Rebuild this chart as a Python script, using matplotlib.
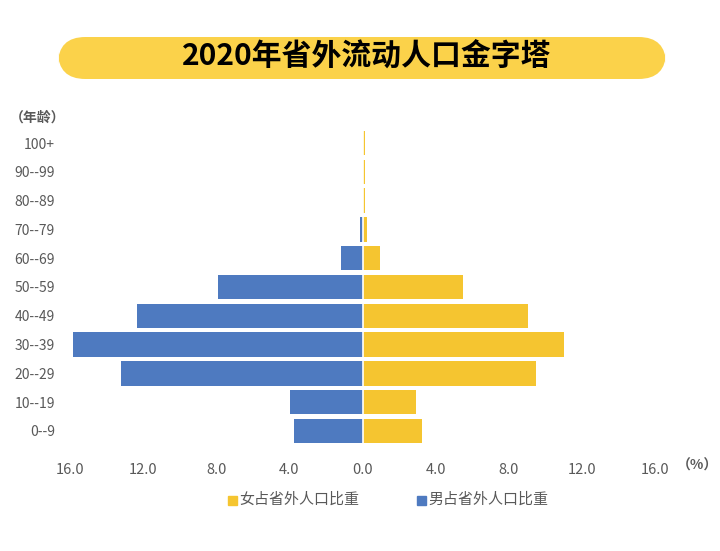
import matplotlib

matplotlib.use("Agg")

import matplotlib.pyplot as plt
import numpy as np
from matplotlib.patches import FancyBboxPatch

plt.rcParams["font.family"] = ["Noto Sans CJK SC", "DejaVu Sans"]

# age groups, bottom to top
ages = ["0--9", "10--19", "20--29", "30--39", "40--49", "50--59",
        "60--69", "70--79", "80--89", "90--99", "100+"]
male = [3.75, 3.95, 13.2, 15.8, 12.3, 7.9, 1.2, 0.15, 0.0, 0.0, 0.0]
female = [3.25, 2.92, 9.48, 11.0, 9.04, 5.49, 0.96, 0.25, 0.12, 0.12, 0.12]
xticks = [-16, -12, -8, -4, 0, 4, 8, 12, 16]

BLUE = "#4E7AC0"
YELLOW = "#F5C530"
PILL = "#FBD24A"
GRAY = "#595959"

W, H = 720, 551
fig = plt.figure(figsize=(W / 100, H / 100), dpi=100)

# title pill
pill = FancyBboxPatch(
    (58 / W, 1 - 79 / H),
    608 / W,
    42 / H,
    boxstyle="round,pad=0,rounding_size=0.038",
    mutation_aspect=W / H,
    transform=fig.transFigure,
    facecolor=PILL,
    edgecolor="none",
)
fig.patches.append(pill)
fig.text(367 / W, 1 - 57 / H, "2020年省外流动人口金字塔", ha="center", va="center",
         fontsize=21.5, fontweight="bold", color="black")

ax = fig.add_axes([60.6 / W, 0.1917, 603.8 / W, 0.5749])
y = np.arange(len(ages))
ax.barh(y, [-m for m in male], height=0.85, color=BLUE, linewidth=0)
ax.barh(y, female, height=0.85, color=YELLOW, linewidth=0)
ax.axvline(0, color="white", linewidth=1.2)

ax.set_xlim(-16.5, 16.5)
ax.set_ylim(-0.5, len(ages) - 0.5)
ax.set_xticks(xticks)
ax.set_xticklabels([f"{abs(v):.1f}" for v in xticks], fontsize=10.5, color=GRAY)
ax.set_yticks(y)
ax.set_yticklabels(ages, fontsize=10, color=GRAY)
ax.tick_params(axis="both", length=0)
ax.tick_params(axis="x", pad=13)
ax.tick_params(axis="y", pad=4)
for s in ax.spines.values():
    s.set_visible(False)

fig.text(38 / W, 1 - 118 / H, "（年龄）", ha="center", va="center", fontsize=10,
         fontweight="bold", color=GRAY)
fig.text(697 / W, 1 - 466 / H, "（%）", ha="center", va="center", fontsize=10,
         fontweight="bold", color=GRAY)

# legend
fig.patches.append(plt.Rectangle((228 / W, 1 - 505 / H), 9 / W, 9 / H,
                                 transform=fig.transFigure, color=YELLOW))
fig.text(239 / W, 1 - 500 / H, "女占省外人口比重", ha="left", va="center", fontsize=10.8, color=GRAY)
fig.patches.append(plt.Rectangle((417 / W, 1 - 505 / H), 9 / W, 9 / H,
                                 transform=fig.transFigure, color=BLUE))
fig.text(428 / W, 1 - 500 / H, "男占省外人口比重", ha="left", va="center", fontsize=10.8, color=GRAY)

fig.savefig("out.png", dpi=100, facecolor="white")
